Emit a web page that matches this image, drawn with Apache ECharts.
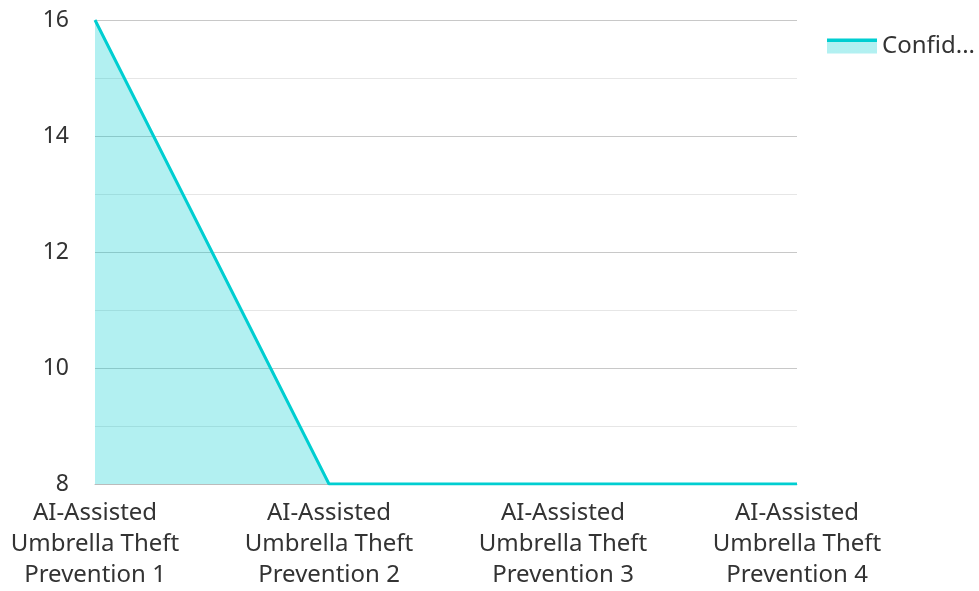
<!DOCTYPE html>
<html>
<head>
<meta charset="utf-8">
<script src="https://cdn.jsdelivr.net/npm/echarts@6/dist/echarts.min.js"></script>
<style>html,body{margin:0;padding:0;background:#fff;overflow:hidden;width:979px;height:591px}#c{position:absolute;left:0;top:0;width:979px;height:591px}</style>
</head>
<body>
<div id="c"></div>
<script>
const categories = [
  "AI-Assisted\nUmbrella Theft\nPrevention 1",
  "AI-Assisted\nUmbrella Theft\nPrevention 2",
  "AI-Assisted\nUmbrella Theft\nPrevention 3",
  "AI-Assisted\nUmbrella Theft\nPrevention 4"
];
const seriesName = "Confidence";
const values = [16, 8, 8, 8];
const yMin = 8, yMax = 16, yInterval = 2;

const chart = echarts.init(document.getElementById('c'));
const font = "'Noto Sans', 'Open Sans', sans-serif";
const lineColor = '#00CED1';
const fillColor = 'rgba(0,206,209,0.3)';
chart.setOption({
  animation: false,
  textStyle: { fontFamily: font },
  grid: { left: 95, right: 182, top: 20, bottom: 104, containLabel: false },
  legend: {
    show: true,
    left: 822, top: 29,
    itemWidth: 50, itemHeight: 15,
    itemGap: 10,
    icon: 'rect',
    itemStyle: {
      borderWidth: 0,
      color: new echarts.graphic.LinearGradient(0, 0, 0, 1, [
        { offset: 0, color: lineColor },
        { offset: 0.26, color: lineColor },
        { offset: 0.26, color: fillColor },
        { offset: 1, color: fillColor }
      ])
    },
    textStyle: { fontSize: 24, color: '#333', fontFamily: font, width: 96, overflow: 'truncate', ellipsis: '...' },
    data: [seriesName]
  },
  xAxis: {
    type: 'category',
    data: categories,
    boundaryGap: false,
    axisLine: { show: true, lineStyle: { color: '#bbb', width: 1 } },
    axisTick: { show: false },
    axisLabel: { fontSize: 24, color: '#333', lineHeight: 31, margin: 14, fontFamily: font, interval: 0 },
    splitLine: { show: false }
  },
  yAxis: {
    type: 'value',
    min: yMin, max: yMax, interval: yInterval,
    axisLine: { show: false },
    axisTick: { show: false },
    axisLabel: { fontSize: 23, color: '#333', margin: 26, fontFamily: font },
    splitLine: { show: true, lineStyle: { color: '#c8c8c8', width: 1 } },
    minorTick: { show: false, splitNumber: 2 },
    minorSplitLine: { show: true, lineStyle: { color: '#e6e6e6', width: 1 } }
  },
  series: [{
    name: seriesName,
    type: 'line',
    data: values,
    symbol: 'none',
    lineStyle: { color: lineColor, width: 3 },
    itemStyle: { color: lineColor },
    areaStyle: { color: fillColor, opacity: 1 }
  }]
});
</script>
</body>
</html>
